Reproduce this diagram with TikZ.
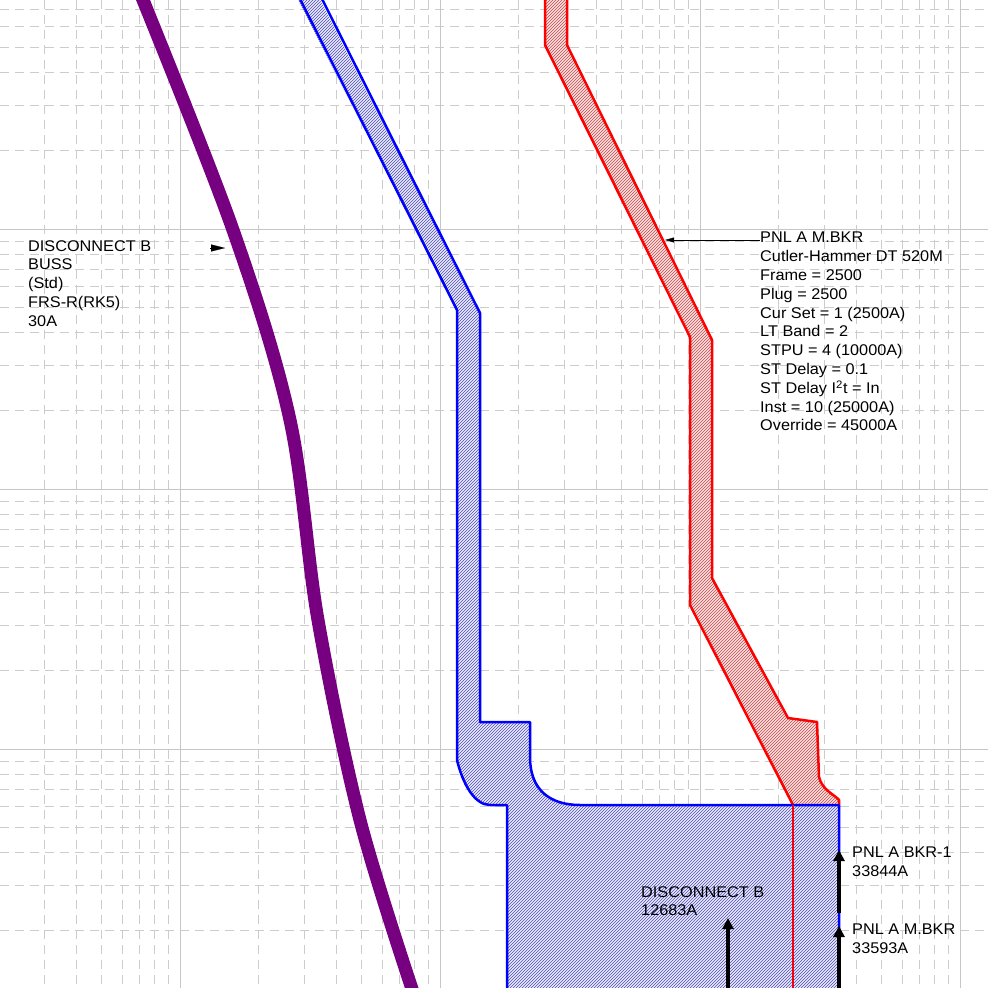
\documentclass[tikz,border=0pt]{standalone}
\usepackage{fontspec}
\setmainfont{Liberation Sans}[FakeStretch=1.05]
\usetikzlibrary{patterns,arrows.meta}
\definecolor{fusepurple}{RGB}{118,0,128}
\begin{document}
\begin{tikzpicture}[x=1pt,y=-1pt,
  major/.style={gray!45,line width=0.8pt},
  minor/.style={gray!40,line width=0.8pt,dash pattern=on 9pt off 6pt},
  lbl/.style={anchor=north west,align=left,inner sep=0pt,font=\fontsize{15.5}{18.8}\selectfont},
  bigarrow/.style={-{Triangle[length=11pt,width=11pt]},line width=4pt}]
\useasboundingbox (0,0) rectangle (988,988);
\begin{scope}
\clip (0,0) rectangle (988,988);
% grid
\foreach \M in {-80,180,440,700}{
  \foreach \k in {2,...,9}{
    \pgfmathsetmacro\xx{\M+260*log10(\k)}
    \draw[minor] (\xx,0) -- (\xx,988);
  }}
\foreach \M in {229,489,749,1009}{
  \foreach \k in {2,...,9}{
    \pgfmathsetmacro\yy{\M-260*log10(\k)}
    \draw[minor] (0,\yy) -- (988,\yy);
  }}
\foreach \x in {180,440,700,960} \draw[major] (\x,0) -- (\x,988);
\foreach \y in {229,489,749} \draw[major] (0,\y) -- (988,\y);
% purple fuse curve
\draw[line width=13pt,fusepurple]
  plot[smooth,tension=0.55] coordinates {(141,-5) (233,230) (290,420) (318,620) (360,820) (414,995)};
% blue band
\path[fill=blue!8] (298,0) -- (457,310) -- (457,760) .. controls (463,785) and (475,805) .. (490,805) -- (507,805) -- (507,988) -- (839,988) -- (839,805) -- (580,805) .. controls (550,805) and (530,790) .. (530,757) -- (530,722) -- (480,722) -- (480,313) -- (320,0) -- cycle;
\path[pattern=north east lines,pattern color=blue!55!black!70] (298,0) -- (457,310) -- (457,760) .. controls (463,785) and (475,805) .. (490,805) -- (507,805) -- (507,988) -- (839,988) -- (839,805) -- (580,805) .. controls (550,805) and (530,790) .. (530,757) -- (530,722) -- (480,722) -- (480,313) -- (320,0) -- cycle;
% red band
\path[fill=red!12] (545,0) -- (545,45) -- (690,337) -- (690,605) -- (793,805) -- (839,805) -- (839,800) .. controls (835,795) and (822,790) .. (819,777) -- (817,722) -- (788,718) -- (712,578) -- (712,340) -- (567,45) -- (567,0) -- cycle;
\path[pattern=north east lines,pattern color=red!60!black!70] (545,0) -- (545,45) -- (690,337) -- (690,605) -- (793,805) -- (839,805) -- (839,800) .. controls (835,795) and (822,790) .. (819,777) -- (817,722) -- (788,718) -- (712,578) -- (712,340) -- (567,45) -- (567,0) -- cycle;
\draw[red,line width=2.5pt,line join=round] (545,-5) -- (545,45) -- (690,337) -- (690,605) -- (793,805);
\draw[red,line width=2.5pt,line join=round] (567,-5) -- (567,45) -- (712,340) -- (712,578) -- (788,718) -- (817,722) -- (819,777) .. controls (822,790) and (835,795) .. (839,800) -- (839,805);
\draw[blue,line width=2.5pt,line join=round] (298,-5) -- (457,310) -- (457,760) .. controls (463,785) and (475,805) .. (490,805) -- (507,805) -- (507,995);
\draw[blue,line width=2.5pt,line join=round] (320,-5) -- (480,313) -- (480,722) -- (530,722) -- (530,757) .. controls (530,790) and (550,805) .. (580,805) -- (839,805) -- (839,995);
\draw[red!80!purple,line width=1.2pt] (793,805) -- (793,995);
\end{scope}
% labels
\node[lbl] (fuse) at (28,240) {DISCONNECT B\\BUSS\\(Std)\\FRS-R(RK5)\\30A};
\coordinate (fusest) at (210,248);
\coordinate (fusept) at (225,248);
\draw[-{Triangle[length=14pt,width=7pt]},line width=0.1pt] (fusest) -- (fusept);
\node[lbl] (mbkr) at (760,232) {PNL A M.BKR\\Cutler-Hammer DT 520M\\Frame = 2500\\Plug = 2500\\Cur Set = 1 (2500A)\\LT Band = 2\\STPU = 4 (10000A)\\ST Delay = 0.1\\ST Delay I\textsuperscript{2}t = In\\Inst = 10 (25000A)\\Override = 45000A};
\coordinate (mbkrst) at (760,240);
\coordinate (mbkrpt) at (665,240);
\draw[-{Triangle[length=9pt,width=5pt]},line width=0.5pt] (mbkrst) -- (mbkrpt);
\node[lbl] (b1) at (852,847) {PNL A BKR-1\\33844A};
\node[lbl] (mb) at (852,924) {PNL A M.BKR\\33593A};
\node[lbl] (db) at (641,886) {DISCONNECT B\\12683A};
\coordinate (a1s) at (839,913); \coordinate (a1e) at (839,850);
\coordinate (a2s) at (839,990); \coordinate (a2e) at (839,926);
\coordinate (a3s) at (728,990); \coordinate (a3e) at (728,918);
\draw[bigarrow] (a1s) -- (a1e);
\draw[bigarrow] (a2s) -- (a2e);
\draw[bigarrow] (a3s) -- (a3e);
\end{tikzpicture}
\end{document}
